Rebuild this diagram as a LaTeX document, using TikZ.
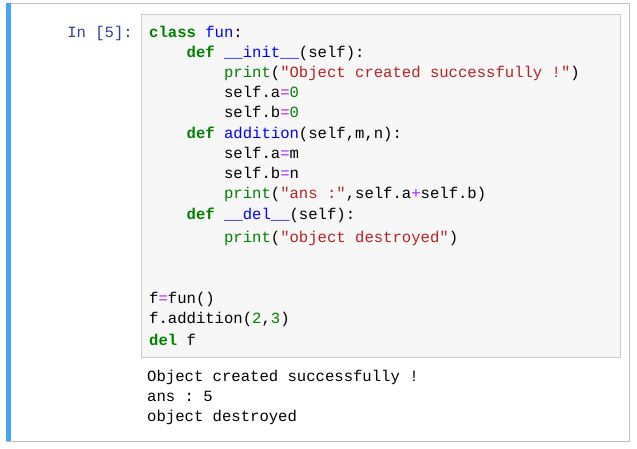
\documentclass[tikz,border=0pt]{standalone}
\usepackage{fontspec}
\setmonofont{Liberation Mono}
\definecolor{kwgreen}{HTML}{008000}
\definecolor{nmblue}{HTML}{0000FF}
\definecolor{strred}{HTML}{BA2121}
\definecolor{oppurple}{HTML}{AA22FF}
\definecolor{prompt}{HTML}{303F9F}
\definecolor{cellbar}{HTML}{42A5F5}
\newcommand{\kw}[1]{\textcolor{kwgreen}{\bfseries #1}}
\newcommand{\bi}[1]{\textcolor{kwgreen}{#1}}
\newcommand{\nm}[1]{\textcolor{nmblue}{#1}}
\newcommand{\str}[1]{\textcolor{strred}{#1}}
\newcommand{\op}[1]{\textcolor{oppurple}{#1}}
\tikzset{
  codeline/.style={anchor=base west, inner sep=0pt, font=\ttfamily\fontsize{15.6}{18}\selectfont},
}
\begin{document}
\begin{tikzpicture}[x=1pt,y=-1pt]
\useasboundingbox (0,0) rectangle (637,449);
% cell frame
\draw[draw=black!25, fill=white] (6,3) rectangle (629,441);
\fill[cellbar] (6,3) rectangle (11,441);
\draw[draw=black!20, fill=black!3] (141,14) rectangle (620,357);
\node[codeline, anchor=base east, text=prompt] (prm) at (133,38) {In [5]:};

% code
\node[codeline] (l1) at (149,38) {\kw{class} \nm{fun}:};
\node[codeline] (l2) at (149,58) {\phantom{xxxx}\kw{def} \nm{\_\_init\_\_}(self):};
\node[codeline] (l3) at (149,78) {\phantom{xxxxxxxx}\bi{print}(\str{"Object created successfully !"})};
\node[codeline] (l4) at (149,98) {\phantom{xxxxxxxx}self.a\op{=}\bi{0}};
\node[codeline] (l5) at (149,118) {\phantom{xxxxxxxx}self.b\op{=}\bi{0}};
\node[codeline] (l6) at (149,139) {\phantom{xxxx}\kw{def} \nm{addition}(self,m,n):};
\node[codeline] (l7) at (149,159) {\phantom{xxxxxxxx}self.a\op{=}m};
\node[codeline] (l8) at (149,179) {\phantom{xxxxxxxx}self.b\op{=}n};
\node[codeline] (l9) at (149,199) {\phantom{xxxxxxxx}\bi{print}(\str{"ans :"},self.a\op{+}self.b)};
\node[codeline] (l10) at (149,219) {\phantom{xxxx}\kw{def} \nm{\_\_del\_\_}(self):};
\node[codeline] (l11) at (149,242) {\phantom{xxxxxxxx}\bi{print}(\str{"object destroyed"})};
\node[codeline] (l12) at (149,303) {f\op{=}fun()};
\node[codeline] (l13) at (149,323) {f.addition(\bi{2},\bi{3})};
\node[codeline] (l14) at (149,345) {\kw{del} f};

% output
\node[codeline] (o1) at (147,381) {Object created successfully !};
\node[codeline] (o2) at (147,401) {ans : 5};
\node[codeline] (o3) at (147,421) {object destroyed};
\end{tikzpicture}
\end{document}
